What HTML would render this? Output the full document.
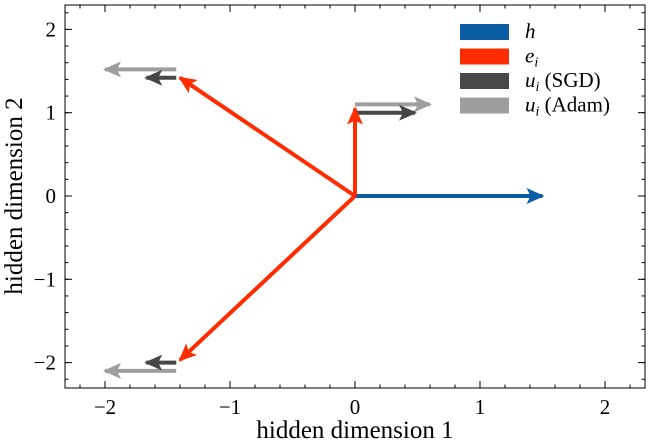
<!DOCTYPE html>
<html><head><meta charset="utf-8"><style>
body{margin:0;background:#fff;}
svg text{font-family:"Liberation Serif",serif;fill:#000;}
</style></head><body>
<svg id="c" width="650" height="441" viewBox="0 0 650 441" xmlns="http://www.w3.org/2000/svg">
<defs>
<marker id="mb" markerWidth="5" markerHeight="4" refX="4" refY="2" orient="auto" markerUnits="strokeWidth"><path d="M0,0 L4.5,2 L0,4 L1,2z" fill="#0C5DA5"/></marker>
<marker id="mr" markerWidth="5" markerHeight="4" refX="4" refY="2" orient="auto" markerUnits="strokeWidth"><path d="M0,0 L4.5,2 L0,4 L1,2z" fill="#FF2C00"/></marker>
<marker id="md" markerWidth="5" markerHeight="4" refX="4" refY="2" orient="auto" markerUnits="strokeWidth"><path d="M0,0 L4.5,2 L0,4 L1,2z" fill="#474747"/></marker>
<marker id="ml" markerWidth="5" markerHeight="4" refX="4" refY="2" orient="auto" markerUnits="strokeWidth"><path d="M0,0 L4.5,2 L0,4 L1,2z" fill="#9e9e9e"/></marker>
</defs>
</svg>
<script>
const xTicks=[-2,-1,0,1,2];
const yTicks=[-2,-1,0,1,2];
const hVec=[[0,0,1.5,0]];
const eVecs=[[0,0,0,1.05],[0,0,-1.4,1.42],[0,0,-1.4,-1.97]];
const sgdVecs=[[0,1.0,0.48,1.0],[-1.43,1.42,-1.67,1.42],[-1.43,-2.0,-1.67,-2.0]];
const adamVecs=[[0,1.1,0.6,1.1],[-1.43,1.52,-2.0,1.52],[-1.43,-2.1,-2.0,-2.1]];
const legendLabels=["h","e_i","u_i (SGD)","u_i (Adam)"];
const L=65,R=645,T=5,B=388;
const sx=v=>355+v*125, sy=v=>196-v*83.3;
const svg=document.getElementById('c');const NS='http://www.w3.org/2000/svg';
function mk(t,a,p){const e=document.createElementNS(NS,t);for(const k in a)e.setAttribute(k,a[k]);(p||svg).appendChild(e);return e;}
let f=mk('rect',{x:L,y:T,width:R-L,height:B-T,fill:'none',stroke:'#000','stroke-width':1});


xTicks.forEach(v=>{const x=sx(v);
 mk('line',{x1:x,x2:x,y1:B,y2:B-7,stroke:'#000'});mk('line',{x1:x,x2:x,y1:T,y2:T+7,stroke:'#000'});
 let t=mk('text',{x:x,y:B+26,'text-anchor':'middle','font-size':21});t.textContent=(v<0?'\u2212':'')+Math.abs(v);
 
 });
for(let v=-2.2;v<=2.21;v+=0.2){const x=sx(v);if(x<L||x>R)continue;mk('line',{x1:x,x2:x,y1:B,y2:B-3.5,stroke:'#000'});mk('line',{x1:x,x2:x,y1:T,y2:T+3.5,stroke:'#000'});}
yTicks.forEach(v=>{const y=sy(v);
 mk('line',{x1:L,x2:L+7,y1:y,y2:y,stroke:'#000'});mk('line',{x1:R,x2:R-7,y1:y,y2:y,stroke:'#000'});
 let t=mk('text',{x:L-9,y:y+7,'text-anchor':'end','font-size':21});t.textContent=(v<0?'\u2212':'')+Math.abs(v);
 
 });
for(let v=-2.2;v<=2.21;v+=0.2){const y=sy(v);if(y<T||y>B)continue;mk('line',{x1:L,x2:L+3.5,y1:y,y2:y,stroke:'#000'});mk('line',{x1:R,x2:R-3.5,y1:y,y2:y,stroke:'#000'});}
let xl=mk('text',{x:355,y:438,'text-anchor':'middle','font-size':25});xl.textContent='hidden dimension 1';


let yl=mk('text',{x:22,y:196,'text-anchor':'middle','font-size':25,transform:'rotate(-90 22 196)'});yl.textContent='hidden dimension 2';


function draw(arr,col,m,name){arr.forEach(a=>{const l=mk('line',{x1:sx(a[0]),y1:sy(a[1]),x2:sx(a[2]),y2:sy(a[3]),stroke:col,'stroke-width':4,'marker-end':'url(#'+m+')'});
 
 });}
draw(adamVecs,'#9e9e9e','ml','adam-arrow');
draw(sgdVecs,'#474747','md','sgd-arrow');
draw(hVec,'#0C5DA5','mb','h-arrow');
draw(eVecs,'#FF2C00','mr','e-arrow');
const cols=['#0C5DA5','#FF2C00','#474747','#9e9e9e'];
const labs=[['h',''],['e','i'],['u','i'],['u','i']],suf=['','',' (SGD)',' (Adam)'];
legendLabels.forEach((s,i)=>{const y=32+i*24.5;
 const r=mk('rect',{x:460,y:y-8,width:49,height:16,fill:cols[i]});
 
 
 const t=mk('text',{x:525,y:y+6,'font-size':21});
 
 
 const a=mk('tspan',{'font-style':'italic'},t);a.textContent=labs[i][0];
 if(labs[i][1]){const b=mk('tspan',{'font-style':'italic','font-size':14,dy:4},t);b.textContent=labs[i][1];}
 if(suf[i]){const c=mk('tspan',{dy:labs[i][1]?-4:0},t);c.textContent=suf[i];}
});
</script>
</body></html>
